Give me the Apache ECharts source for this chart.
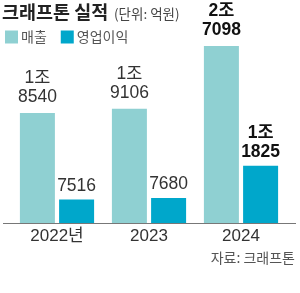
<!DOCTYPE html>
<html><head><meta charset="utf-8">
<script src="https://cdn.jsdelivr.net/npm/echarts@6/dist/echarts.min.js"></script>
<style>html,body{margin:0;padding:0;background:#fff}#c{width:300px;height:293px}</style>
</head><body><div id="c"></div>
<script>
const categories = ['2022년', '2023', '2024'];
const revenue = [18540, 19106, 27098];
const operatingProfit = [7516, 7680, 11825];
const seriesNames = ['매출', '영업이익'];

const NUM_FONT = '"Liberation Sans", "Noto Sans CJK KR", sans-serif';
function fmt(v) {
  const jo = Math.floor(v / 10000), rest = v % 10000;
  return jo > 0 ? jo + '조\n' + rest : String(rest);
}
function items(arr) {
  return arr.map((v, i) => ({
    value: v,
    label: { fontWeight: i === arr.length - 1 ? 'bold' : 'normal', color: i === arr.length - 1 ? '#111' : '#333' }
  }));
}
const chart = echarts.init(document.getElementById('c'), null, { renderer: 'canvas' });
chart.setOption({
  animation: false,
  title: {
    text: '크래프톤 실적',
    left: 2, top: 1,
    padding: [2, 0, 0, 0],
    textStyle: { fontFamily: '"Noto Sans CJK KR", sans-serif', fontSize: 18.5, fontWeight: 'bold', color: '#222' }
  },
  legend: {
    left: 5, top: 30, padding: 0,
    itemWidth: 13, itemHeight: 13, itemGap: 14,
    icon: 'rect',
    textStyle: { fontFamily: '"Noto Sans CJK KR", sans-serif', fontSize: 14, color: '#555', padding: [0, 0, 0, -2] },
    data: seriesNames
  },
  grid: { left: 11, right: 13, top: 39, bottom: 70 },
  xAxis: {
    type: 'category', data: categories,
    axisLine: { show: false }, axisTick: { show: false },
    axisLabel: { fontFamily: NUM_FONT, fontSize: 17, color: '#333', margin: 5 }
  },
  yAxis: { type: 'value', min: 4500, max: 28000, show: false, splitLine: { show: false } },
  series: [
    {
      name: seriesNames[0], type: 'bar', barWidth: 35, barGap: '12%',
      itemStyle: { color: '#8FD0D2' },
      label: { show: true, position: 'top', distance: 6, formatter: p => fmt(p.value),
        fontFamily: NUM_FONT, fontSize: 17.5, lineHeight: 19, color: '#333' },
      data: items(revenue)
    },
    {
      name: seriesNames[1], type: 'bar', barWidth: 35,
      itemStyle: { color: '#00A7CB' },
      label: { show: true, position: 'top', distance: 4, formatter: p => fmt(p.value),
        fontFamily: NUM_FONT, fontSize: 17.5, lineHeight: 19, color: '#333' },
      data: items(operatingProfit)
    }
  ],
  graphic: [
    { type: 'text', left: 114, top: 7, style: { text: '(단위: 억원)', font: '13.5px "Noto Sans CJK KR", sans-serif', fill: '#444' } },
    { type: 'line', shape: { x1: 3, y1: 223.5, x2: 296, y2: 223.5 }, style: { stroke: '#777', lineWidth: 1 } },
    { type: 'text', right: 5, top: 251, style: { text: '자료: 크래프톤', font: '14px "Noto Sans CJK KR", sans-serif', fill: '#555' } }
  ]
});
</script></body></html>
